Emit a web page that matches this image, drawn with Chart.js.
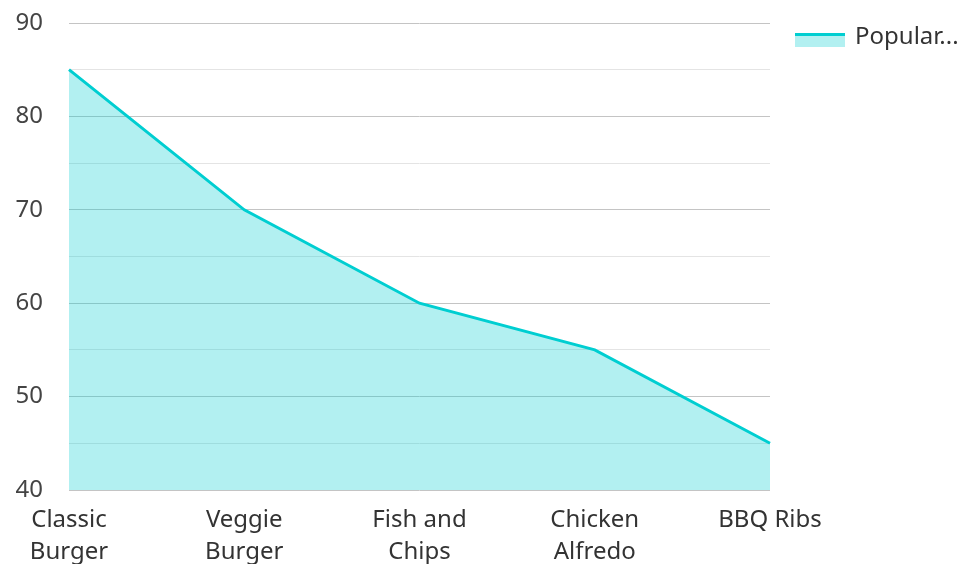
<!DOCTYPE html><html lang="en">
<head>
  <meta charset="UTF-8" />
  <title>Dish Popularity</title>
  <script src="https://cdn.jsdelivr.net/npm/chart.js"></script>
  <style>
    html, body { margin: 0; padding: 0; background: #fff; overflow: hidden; }
    .wrap { position: relative; width: 962px; height: 564px; }
  </style>
</head>
<body>
  <div class="wrap"><canvas id="chart"></canvas></div>
  <script>
const dishes = [["Classic", "Burger"], ["Veggie", "Burger"], ["Fish and", "Chips"], ["Chicken", "Alfredo"], "BBQ Ribs"];
const popularity = [85, 70, 60, 55, 45];
const seriesName = "Popularity Score";
const yTicks = [40, 50, 60, 70, 80, 90];

const lineColor = "#00CED1";
const fillColor = "rgba(0, 206, 209, 0.3)";
const fontFamily = "'Noto Sans', 'Open Sans', sans-serif";

// draws the legend on the right like the original (line on top, fill under it)
const sideLegend = {
  id: "sideLegend",
  afterDraw(chart) {
    const ctx = chart.ctx;
    const x = 795, y = 33;
    ctx.save();
    ctx.fillStyle = fillColor;
    ctx.fillRect(x, y, 50, 14);
    ctx.strokeStyle = lineColor;
    ctx.lineWidth = 3;
    ctx.beginPath();
    ctx.moveTo(x, y + 1.5);
    ctx.lineTo(x + 50, y + 1.5);
    ctx.stroke();
    ctx.fillStyle = "#333";
    ctx.font = "24px " + fontFamily;
    ctx.textBaseline = "middle";
    let label = chart.data.datasets[0].label;
    if (label.length > 7) label = label.slice(0, 7) + "...";
    ctx.fillText(label, x + 60, y + 4);
    ctx.restore();
  }
};

new Chart(document.getElementById("chart"), {
  type: "line",
  data: {
    labels: dishes,
    datasets: [{
      label: seriesName,
      data: popularity,
      borderColor: lineColor,
      backgroundColor: fillColor,
      borderWidth: 3,
      fill: "origin",
      pointRadius: 0,
      tension: 0
    }]
  },
  options: {
    responsive: true,
    maintainAspectRatio: false,
    animation: false,
    layout: { padding: { top: 23, right: 192, bottom: 0, left: 0 } },
    plugins: { legend: { display: false }, tooltip: { enabled: false } },
    scales: {
      x: {
        offset: false,
        grid: { display: false },
        border: { display: false },
        ticks: { color: "#333", font: { family: fontFamily, size: 24, lineHeight: 1.35 }, maxRotation: 0, autoSkip: false, padding: 6 },
        afterFit(scale) { scale.height = 74; scale.paddingTop = 0; }
      },
      y: {
        min: yTicks[0],
        max: yTicks[yTicks.length - 1],
        border: { display: false },
        ticks: {
          stepSize: 5,
          color: "#444",
          padding: 26,
          font: { family: fontFamily, size: 24 },
          callback: v => yTicks.includes(v) ? v : ""
        },
        grid: {
          drawTicks: false,
          lineWidth: 1,
          color: c => yTicks.includes(c.tick.value) ? "#c4c4c4" : "#e4e4e4"
        },
        afterFit(scale) { scale.width = 69; scale.paddingTop = 0; scale.paddingBottom = 0; }
      }
    }
  },
  plugins: [sideLegend]
});
  </script>
</body>
</html>
